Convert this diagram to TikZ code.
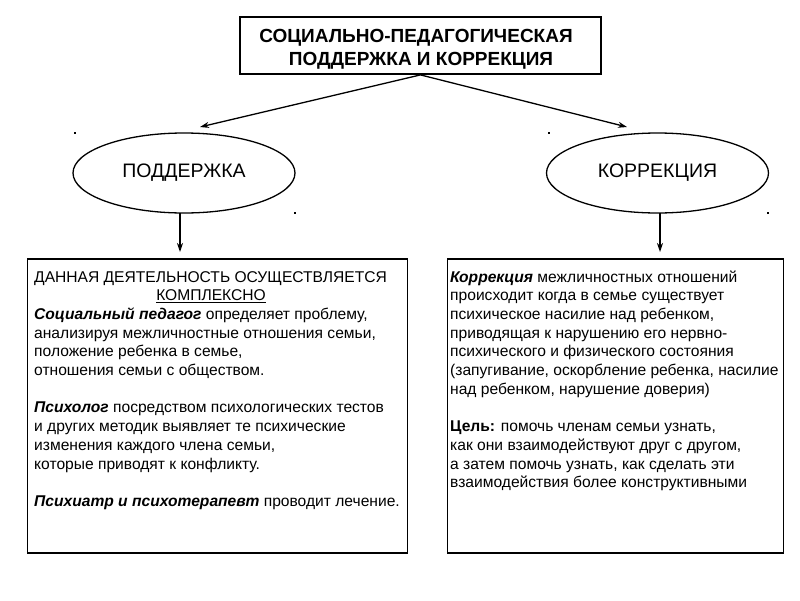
\documentclass[tikz,border=0pt]{standalone}
\usepackage{fontspec}
\setmainfont{Liberation Sans}
\usetikzlibrary{arrows.meta,shapes.geometric}
\begin{document}
\begin{tikzpicture}[x=1pt,y=-1pt,
  frame/.style={draw, line width=1.8pt, inner sep=0pt},
  oval/.style={draw, ellipse, line width=1.3pt, minimum width=222pt, minimum height=80pt, inner sep=0pt, font=\fontsize{19.5}{22}\selectfont},
  arr/.style={line width=1.3pt, -{Stealth[length=9pt,width=6pt]}},
  txt/.style={anchor=base west, inner sep=0pt, font=\fontsize{15.6}{18}\selectfont},
  ttl/.style={anchor=base, inner sep=0pt, font=\fontsize{19}{22}\selectfont\bfseries},
  dotmark/.style={fill=black, inner sep=0pt, minimum size=1.8pt}]
\useasboundingbox (0,0) rectangle (800,600);
\fill[white] (0,0) rectangle (800,600);
% title
\node[frame, minimum width=361pt, minimum height=57pt] (title) at (420.5,45.5) {};
\node[ttl] (t1) at (416,42) {СОЦИАЛЬНО-ПЕДАГОГИЧЕСКАЯ};
\node[ttl] (t2) at (421,65) {ПОДДЕРЖКА И КОРРЕКЦИЯ};
% ellipses
\node[oval] (podd) at (184,173) {ПОДДЕРЖКА};
\node[oval] (korr) at (657.5,173) {КОРРЕКЦИЯ};
\coordinate (pl) at (200,127);
\coordinate (pr) at (627,127);
\draw[arr] (title.south) -- (pl);
\draw[arr] (title.south) -- (pr);
% boxes
\node[frame, minimum width=380pt, minimum height=294pt] (lbox) at (217.5,406) {};
\node[frame, minimum width=336pt, minimum height=294pt] (rbox) at (615.5,406) {};
\coordinate (al0) at (180,213);
\coordinate (al1) at (180,252);
\coordinate (ar0) at (660,213);
\coordinate (ar1) at (660,252);
\draw[arr] (al0) -- (al1);
\draw[arr] (ar0) -- (ar1);
% dots
\node[dotmark] (d1) at (75,133) {};
\node[dotmark] (d2) at (295,213) {};
\node[dotmark] (d3) at (549,133) {};
\node[dotmark] (d4) at (768,213) {};
% left text
\node[txt] (l1) at (34,282) {ДАННАЯ ДЕЯТЕЛЬНОСТЬ ОСУЩЕСТВЛЯЕТСЯ};
\node[txt, anchor=base] (l2) at (211,300.7) {\underline{КОМПЛЕКСНО}};
\node[txt] (l3) at (34,319.4) {\textbf{\textit{Социальный педагог}} определяет проблему,};
\node[txt] (l4) at (34,338.1) {анализируя межличностные отношения семьи,};
\node[txt] (l5) at (34,356.8) {положение ребенка в семье,};
\node[txt] (l6) at (34,375.5) {отношения семьи с обществом.};
\node[txt] (l8) at (34,412.9) {\textbf{\textit{Психолог}} посредством психологических тестов};
\node[txt] (l9) at (34,431.6) {и других методик выявляет те психические};
\node[txt] (l10) at (34,450.3) {изменения каждого члена семьи,};
\node[txt] (l11) at (34,469) {которые приводят к конфликту.};
\node[txt] (l13) at (34,506.4) {\textbf{\textit{Психиатр и психотерапевт}} проводит лечение.};
% right text
\node[txt] (r1) at (450,282) {\textbf{\textit{Коррекция}} межличностных отношений};
\node[txt] (r2) at (450,300.7) {происходит когда в семье существует};
\node[txt] (r3) at (450,319.4) {психическое насилие над ребенком,};
\node[txt] (r4) at (450,338.1) {приводящая к нарушению его нервно-};
\node[txt] (r5) at (450,356.8) {психического и физического состояния};
\node[txt] (r6) at (450,375.5) {(запугивание, оскорбление ребенка, насилие};
\node[txt] (r7) at (450,394.2) {над ребенком, нарушение доверия)};
\node[txt] (r9) at (450,431.6) {\textbf{Цель:} помочь членам семьи узнать,};
\node[txt] (r10) at (450,450.3) {как они взаимодействуют друг с другом,};
\node[txt] (r11) at (450,469) {а затем помочь узнать, как сделать эти};
\node[txt] (r12) at (450,487.7) {взаимодействия более конструктивными};
\end{tikzpicture}
\end{document}
